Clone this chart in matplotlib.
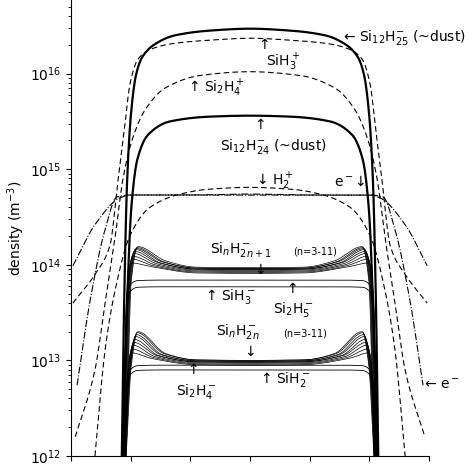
import numpy as np
import matplotlib
matplotlib.use("Agg")
import matplotlib.pyplot as plt

# half profiles (x in gap units 0..3, log10 density); mirrored about x=3
si12h25_x = [0.85, 0.89, 0.94, 1.01, 1.09, 1.19, 1.41, 1.74, 2.33, 3.0]
si12h25_y = [12.0, 13.63, 14.89, 15.62, 15.99, 16.17, 16.31, 16.40, 16.45, 16.47]
sih3p_x = [0.03, 0.40, 0.65, 0.79, 0.89, 0.99, 1.12, 1.32, 1.66, 2.33, 3.0]
sih3p_y = [13.6, 13.9, 14.2, 14.9, 15.4, 15.9, 16.15, 16.25, 16.31, 16.35, 16.37]
si2h4p_x = [0.07, 0.40, 0.57, 0.74, 0.87, 1.02, 1.24, 1.58, 2.16, 3.0]
si2h4p_y = [12.2, 12.9, 13.6, 14.3, 14.9, 15.3, 15.62, 15.85, 15.98, 16.02]
si12h24_x = [0.87, 0.94, 1.01, 1.11, 1.29, 1.66, 2.33, 3.0]
si12h24_y = [12.0, 13.63, 14.6, 15.1, 15.36, 15.50, 15.55, 15.56]
h2p_x = [0.40, 0.57, 0.74, 0.99, 1.32, 1.83, 2.3, 3.0]
h2p_y = [12.0, 13.11, 13.74, 14.31, 14.6, 14.74, 14.79, 14.81]
e_x = [0.10, 0.32, 0.57, 0.77, 0.99, 2.0, 3.0]
e_y = [12.74, 13.63, 14.37, 14.71, 14.73, 14.73, 14.74]
ion2_x = [0.03, 0.40, 0.82, 0.99]
ion2_y = [13.99, 14.42, 14.70, 14.73]

# negative ion clusters: n = 3..11 flat levels and edge peaks (log10)
n_vals = list(range(3, 12))
hi_flat = [13.91, 13.92, 13.93, 13.94, 13.95, 13.95, 13.96, 13.96, 13.97]
hi_peak = [14.02, 14.06, 14.09, 14.12, 14.14, 14.16, 14.17, 14.18, 14.19]
lo_flat = [12.95, 12.96, 12.97, 12.98, 12.98, 12.99, 12.99, 13.0, 13.0]
lo_peak = [13.08, 13.12, 13.16, 13.19, 13.22, 13.25, 13.27, 13.29, 13.30]
sih3m_flat, si2h5m_flat = 13.77, 13.84
sih2m_flat, si2h4m_flat = 12.90, 12.95


def pchip(x, y, xx):
    x = np.asarray(x, float); y = np.asarray(y, float)
    h = np.diff(x); d = np.diff(y) / h
    m = np.zeros_like(y)
    for k in range(1, len(x) - 1):
        if d[k - 1] * d[k] > 0:
            w1 = 2 * h[k] + h[k - 1]; w2 = h[k] + 2 * h[k - 1]
            m[k] = (w1 + w2) / (w1 / d[k - 1] + w2 / d[k])
    m[0] = d[0]; m[-1] = 0.0
    i = np.clip(np.searchsorted(x, xx) - 1, 0, len(h) - 1)
    t = (xx - x[i]) / h[i]
    h00 = 2 * t**3 - 3 * t**2 + 1; h10 = t**3 - 2 * t**2 + t
    h01 = -2 * t**3 + 3 * t**2; h11 = t**3 - t**2
    return h00 * y[i] + h10 * h[i] * m[i] + h01 * y[i + 1] + h11 * h[i] * m[i + 1]


def mirror(x, y):
    xx = np.linspace(x[0], x[-1], 300)
    yy = pchip(x, y, xx)
    return np.concatenate([xx, 6 - xx[::-1][1:]]), 10 ** np.concatenate([yy, yy[::-1][1:]])


fig = plt.figure(figsize=(4.74, 4.74), dpi=100)
ax = fig.add_axes([0.15, 0.038, 0.755, 0.962])


def draw(x, y, **kw):
    X, Y = mirror(x, y)
    ax.plot(X, Y, color="black", **kw)


draw(si12h25_x, si12h25_y, lw=1.6)
draw(si12h24_x, si12h24_y, lw=1.6)
draw(sih3p_x, sih3p_y, lw=0.8, ls=(0, (5, 3)))
draw(si2h4p_x, si2h4p_y, lw=0.8, ls=(0, (5, 3)))
draw(h2p_x, h2p_y, lw=0.8, ls=(0, (5, 3)))
draw(e_x, e_y, lw=0.8, ls="-.")
draw(ion2_x, ion2_y, lw=0.8, ls="-.")

for i in range(len(n_vals)):
    for flat, peak in ((hi_flat[i], hi_peak[i]), (lo_flat[i], lo_peak[i])):
        xs = [0.86 + 0.008 * i, 0.93 + 0.01 * i, 1.0 + 0.015 * i,
              1.35 + 0.03 * i, 2.1, 3.0]
        ys = [12.0, peak - 0.35, peak, flat + 0.07, flat + 0.005, flat]
        draw(xs, ys, lw=0.5)
for flat in (sih3m_flat, si2h5m_flat, sih2m_flat, si2h4m_flat):
    draw([0.87, 0.92, 0.98, 1.12, 1.5, 3.0],
         [12.0, flat - 0.5, flat - 0.06, flat - 0.005, flat, flat], lw=0.6)

ax.set_yscale("log")
ax.set_xlim(0, 6)
ax.set_ylim(1e12, 10 ** 16.77)
ax.set_xticks(range(7))
ax.set_xticklabels([])
ax.spines["top"].set_visible(False)
ax.spines["right"].set_visible(False)
ax.tick_params(labelsize=10)
ax.set_ylabel("density (m$^{-3}$)", fontsize=10, labelpad=2)


def T(px, py, s, fs=10, **kw):
    ax.text((px - 71) / 358, (456 - py) / 456, s, transform=ax.transAxes,
            fontsize=fs, va="center", ha="left", clip_on=False, **kw)


T(343, 38, "← Si$_{12}$H$_{25}^{-}$ (~dust)")
T(258, 45, "↑")
T(266, 62, "SiH$_3^+$")
T(188, 88, "↑ Si$_2$H$_4^+$")
T(254, 125, "↑")
T(220, 147, "Si$_{12}$H$_{24}^{-}$ (~dust)")
T(256, 181, "↓ H$_2^+$")
T(334, 182, "e$^-$↓")
T(210, 250, "Si$_n$H$_{2n+1}^-$")
T(293, 252, "(n=3-11)", fs=7)
T(254, 270, "↓")
T(205, 297, "↑ SiH$_3^-$")
T(286, 289, "↑")
T(273, 310, "Si$_2$H$_5^-$")
T(216, 332, "Si$_n$H$_{2n}^-$")
T(283, 334, "(n=3-11)", fs=7)
T(244, 352, "↓")
T(187, 370, "↑")
T(176, 392, "Si$_2$H$_4^-$")
T(260, 380, "↑ SiH$_2^-$")
T(424, 385, "← e$^-$")

fig.savefig("out.png", dpi=100)
